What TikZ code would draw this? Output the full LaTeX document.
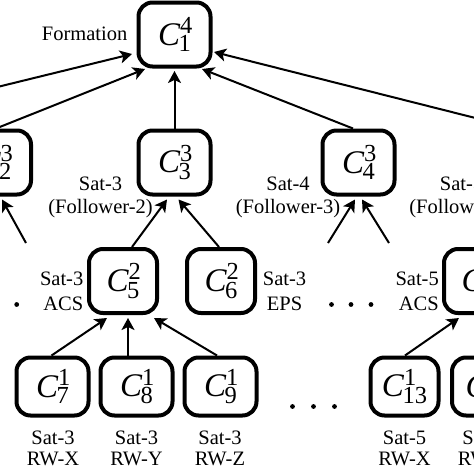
\documentclass[tikz,border=0pt]{standalone}
\usepackage{fontspec}
\setmainfont{Liberation Serif}
\usetikzlibrary{arrows.meta,calc}
\newcommand{\Cnode}[2]{{\fontsize{33}{33}\selectfont\itshape C}\kern-1.5pt\rlap{\kern1.5pt\raisebox{11.6pt}{\fontsize{24.5}{24.5}\selectfont #1}}\raisebox{-6.7pt}{\fontsize{24.5}{24.5}\selectfont #2}}
\begin{document}
\begin{tikzpicture}[x=1pt,y=-1pt,
  cbox/.style={draw, line width=4pt, rounded corners=14pt, inner sep=0pt, minimum width=72pt, minimum height=64pt},
  cboxs/.style={cbox, minimum height=58pt},
  arr/.style={line width=2pt, -{Stealth[length=12pt,width=13pt,inset=3pt]}},
  lbl/.style={font=\fontsize{20.5}{23}\selectfont, inner sep=0pt},
  dotc/.style={fill=black}]
\useasboundingbox (0,0) rectangle (474,474);
\clip (0,0) rectangle (474,474);
% boxes
\node[cbox] (c14) at (174.5,34.5) {\Cnode{4}{1}};
\node[cbox] (c23) at (-5,162.5) {\Cnode{3}{2}};
\node[cbox] (c33) at (174.5,162.5) {\Cnode{3}{3}};
\node[cbox] (c43) at (358.5,162.5) {\Cnode{3}{4}};
\node[cbox, minimum width=68pt] (c52) at (123,281) {\Cnode{2}{5}};
\node[cbox, minimum width=68pt] (c62) at (221,281) {\Cnode{2}{6}};
\node[cbox, minimum width=68pt] (c92) at (478,281) {\Cnode{2}{9}};
\node[cboxs] (c71) at (52.5,386.5) {\Cnode{1}{7}};
\node[cboxs] (c81) at (136.5,386.5) {\Cnode{1}{8}};
\node[cboxs] (c91) at (220.5,386.5) {\Cnode{1}{9}};
\node[cboxs, minimum width=68pt] (c131) at (404.5,386.5) {\Cnode{1}{13}};
\node[cboxs] (c141) at (488,386.5) {\Cnode{1}{14}};
% off-picture ends
\coordinate (c13top) at (-172,128.5);
\coordinate (c53top) at (517,128.5);
\coordinate (s1) at (328,243);
\coordinate (s2) at (389,243);
\coordinate (s3) at (26,243);
% labels
\node[lbl, anchor=base east] (form) at (127.5,40) {Formation};
\node[lbl, anchor=base] (l33a) at (100.5,190) {Sat-3};
\node[lbl, anchor=base] (l33b) at (100.5,213) {(Follower-2)};
\node[lbl, anchor=base] (l43a) at (288,190) {Sat-4};
\node[lbl, anchor=base] (l43b) at (288,213) {(Follower-3)};
\node[lbl, anchor=base] (l53a) at (461.5,190) {Sat-5};
\node[lbl, anchor=base] (l53b) at (461.5,213) {(Follower-4)};
\node[lbl, anchor=base east] (l52a) at (83.5,285) {Sat-3};
\node[lbl, anchor=base east] (l52b) at (83.5,310) {ACS};
\node[lbl, anchor=base] (l62a) at (284.5,285) {Sat-3};
\node[lbl, anchor=base] (l62b) at (284.5,310) {EPS};
\node[lbl, anchor=base east] (l92a) at (439,285) {Sat-5};
\node[lbl, anchor=base east] (l92b) at (439,310) {ACS};
\node[lbl, anchor=base] (l71a) at (53,444.7) {Sat-3};
\node[lbl, anchor=base] (l71b) at (53,465.7) {RW-X};
\node[lbl, anchor=base] (l81a) at (136.5,444.7) {Sat-3};
\node[lbl, anchor=base] (l81b) at (136.5,465.7) {RW-Y};
\node[lbl, anchor=base] (l91a) at (220,444.7) {Sat-3};
\node[lbl, anchor=base] (l91b) at (220,465.7) {RW-Z};
\node[lbl, anchor=base] (l131a) at (404.5,444.7) {Sat-5};
\node[lbl, anchor=base] (l131b) at (404.5,465.7) {RW-X};
\node[lbl, anchor=base] (l141a) at (484,444.7) {Sat-5};
\node[lbl, anchor=base] (l141b) at (484,465.7) {RW-Y};
% dots
\foreach \x in {16.7,331.5,351,371} \fill[dotc] (\x,304.5) circle (2.4);
\foreach \x in {292.5,313.5,334.5} \fill[dotc] (\x,406.5) circle (2.4);
% arrows to C^4_1
\draw[arr] (c33) -- ($(c14.south)+(0,2.5)$);
\draw[arr] (c53top) -- ($(c14.east)+(1.5,17.5)$);
\draw[arr] ($(c43.north)+(-5.5,0)$) -- ($(c14.south)+(27.5,0.5)$);
\draw[arr] (c13top) -- ($(c14.west)+(-4.5,19.5)$);
\draw[arr] ($(c23.north)+(1,0)$) -- ($(c14.south)+(-29.5,0.5)$);
% level 3
\draw[arr] ($(c52.north)+(9,0)$) -- ($(c33.south)+(-7.5,3)$);
\draw[arr] ($(c62.north)+(-2,0)$) -- ($(c33.south)+(4,3)$);
\draw[arr] (s1) -- ($(c43.south)+(-3.5,3)$);
\draw[arr] (s2) -- ($(c43.south)+(3.5,3)$);
\draw[arr] (s3) -- ($(c23.south)+(7,3)$);
% level 2
\draw[arr] ($(c71.north)+(-1,0)$) -- ($(c52.south)+(-16,3)$);
\draw[arr] ($(c81.north)+(-8.5,0)$) -- ($(c52.south)+(5,3)$);
\draw[arr] ($(c91.north)+(-3.5,0)$) -- ($(c52.south)+(31,3)$);
\draw[arr] ($(c131.north)+(0.5,0)$) -- ($(c92.south)+(-19,3)$);
\end{tikzpicture}
\end{document}
